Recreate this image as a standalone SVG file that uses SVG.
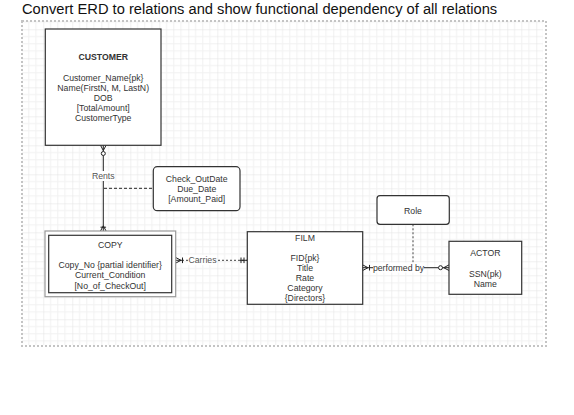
<svg xmlns="http://www.w3.org/2000/svg" width="574" height="415" viewBox="0 0 574 415">
<style>
text{font-family:"Liberation Sans",Arial,sans-serif;font-size:8.7px;fill:#333;text-anchor:middle}
.title{font-size:14.7px;fill:#111;text-anchor:start}
.b{font-weight:bold}
.ent{fill:#fff;stroke:#333;stroke-width:1.2}
.attr{fill:#fff;stroke:#333;stroke-width:1.2}
.ln{fill:none;stroke:#222;stroke-width:1}
.dash{fill:none;stroke:#222;stroke-width:1;stroke-dasharray:3 2}
.dot{fill:none;stroke:#666;stroke-width:1.2;stroke-dasharray:2 2}
.lbl{fill:#555}
</style>
<defs>
<pattern id="grid" patternUnits="userSpaceOnUse" x="14.3" y="0.3" width="29" height="29">
<path d="M7.25 0V29M14.5 0V29M21.75 0V29M0 7.25H29M0 14.5H29M0 21.75H29" stroke="#f1f1f1" stroke-width="1" fill="none"/>
<path d="M0 0V29M0 0H29" stroke="#e2e2e2" stroke-width="1" fill="none"/>
</pattern>
</defs>
<rect width="574" height="415" fill="#fff"/>
<text class="title" x="22" y="14">Convert ERD to relations and show functional dependency of all relations</text>
<rect x="22" y="21" width="521" height="324" fill="url(#grid)"/>
<rect x="22" y="21" width="524" height="325" fill="none" stroke="#c4c4c4" stroke-width="2" stroke-dasharray="2 2"/>

<g id="connectors">
<!-- Rents -->
<path class="ln" d="M103.3 155.5V231"/>
<path class="ln" d="M100.5 145.3L103.3 150.5L106.1 145.3M103.3 145.3V151.5"/>
<circle cx="103.3" cy="153.5" r="2" fill="#fff" stroke="#222" stroke-width="1"/>
<path class="ln" d="M100.5 231L103.3 225.8L106.1 231M100.5 227.2H106.1"/>
<path class="dash" d="M104 188.3H153.3"/>
<rect x="92" y="171" width="23" height="10" fill="#fff"/>
<text class="lbl" x="103.3" y="179">Rents</text>
<!-- Carries -->
<path class="dot" d="M182 260.3H247.3"/>
<path class="ln" d="M175.7 257.5L181 260.3L175.7 263.1M175.7 260.3H182M182.5 257.5V263.1"/>
<path class="ln" d="M241 257.5V263.1M244 257.5V263.1M240 260.3H247.3"/>
<rect x="188" y="255" width="29" height="10" fill="#fff"/>
<text class="lbl" x="202.5" y="263.3">Carries</text>
<!-- performed by -->
<path class="ln" d="M362.7 267.7H438.5"/>
<path class="ln" d="M362.7 264.9L368 267.7L362.7 270.5M369.5 264.9V270.5"/>
<circle cx="440.5" cy="267.7" r="2" fill="#fff" stroke="#222" stroke-width="1"/>
<path class="ln" d="M449 264.9L443.7 267.7L449 270.5M442.5 267.7H449"/>
<path class="dot" d="M413 224.3V267.7"/>
<rect x="373" y="262.5" width="51" height="10" fill="#fff"/>
<text x="398.5" y="270.7">performed by</text>
</g>

<g id="customer">
<rect class="ent" x="45.3" y="29" width="115.7" height="116.3"/>
<text class="b" x="103.2" y="60.3">CUSTOMER</text>
<text x="103.2" y="80.7">Customer_Name{pk}</text>
<text x="103.2" y="90.7">Name(FirstN, M, LastN)</text>
<text x="103.2" y="100.7">DOB</text>
<text x="103.2" y="110.7">[TotalAmount]</text>
<text x="103.2" y="120.7">CustomerType</text>
</g>

<g id="rents-attrs">
<rect class="attr" x="153.3" y="166.7" width="86.7" height="44" rx="4"/>
<text x="196.7" y="182">Check_OutDate</text>
<text x="196.7" y="192">Due_Date</text>
<text x="196.7" y="202.3">[Amount_Paid]</text>
</g>

<g id="copy">
<rect x="45" y="231" width="130.7" height="65.7" fill="#fff" stroke="#999" stroke-width="1.2"/>
<rect x="48.7" y="235.3" width="123" height="57.4" fill="#fff" stroke="#333" stroke-width="1.2"/>
<text x="110.2" y="248">COPY</text>
<text x="110.2" y="268">Copy_No {partial identifier}</text>
<text x="110.2" y="278">Current_Condition</text>
<text x="110.2" y="288.7">[No_of_CheckOut]</text>
</g>

<g id="film">
<rect class="ent" x="247.3" y="231.7" width="115.4" height="72.6"/>
<text x="305" y="240.7">FILM</text>
<text x="305" y="261.3">FID{pk}</text>
<text x="305" y="271.3">Title</text>
<text x="305" y="281.3">Rate</text>
<text x="305" y="291.3">Category</text>
<text x="305" y="301.3">{Directors}</text>
</g>

<g id="role">
<rect class="attr" x="377" y="195.7" width="72.3" height="28.6" rx="3"/>
<text x="413" y="214">Role</text>
</g>

<g id="actor">
<rect class="ent" x="449" y="241.3" width="72.7" height="53"/>
<text x="485.3" y="256">ACTOR</text>
<text x="485.3" y="276.7">SSN(pk)</text>
<text x="485.3" y="286.7">Name</text>
</g>
</svg>
